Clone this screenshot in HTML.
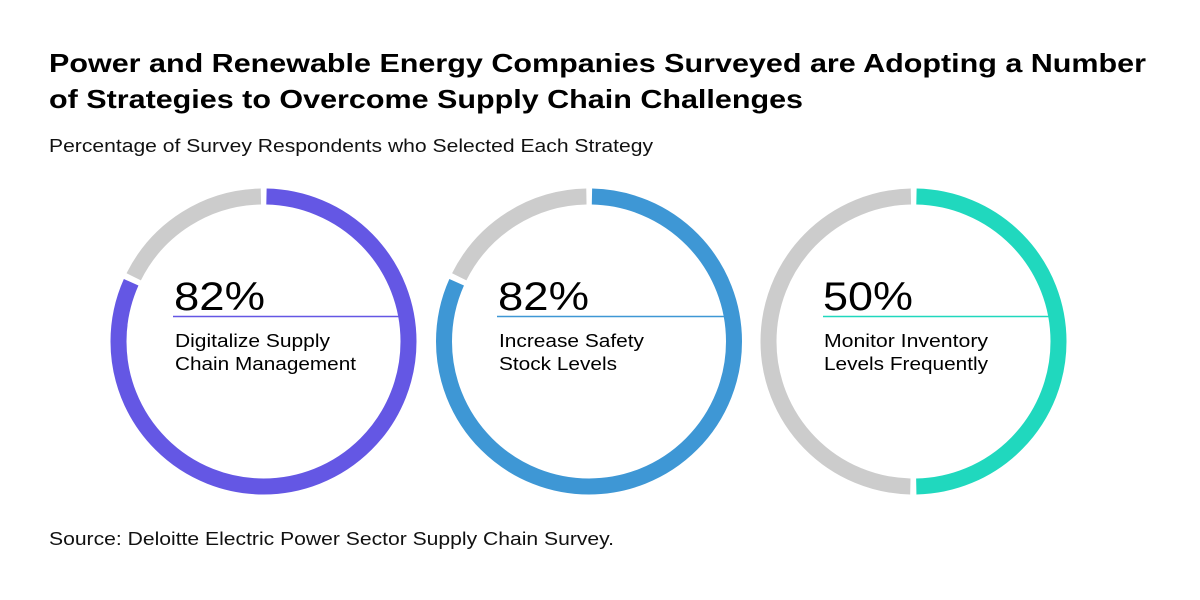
<!DOCTYPE html>
<html><head><meta charset="utf-8"><style>html,body{margin:0;padding:0;background:#fff}svg{display:block}</style></head>
<body>
<svg width="1200" height="600" viewBox="0 0 1200 600" xmlns="http://www.w3.org/2000/svg" font-family="Liberation Sans, Arial, sans-serif">
<rect width="1200" height="600" fill="#fff"/>
<text x="49" y="72" font-size="26" font-weight="bold" fill="#000" textLength="1097" lengthAdjust="spacingAndGlyphs">Power and Renewable Energy Companies Surveyed are Adopting a Number</text>
<text x="49" y="108" font-size="26" font-weight="bold" fill="#000" textLength="754" lengthAdjust="spacingAndGlyphs">of Strategies to Overcome Supply Chain Challenges</text>
<text x="49" y="152" font-size="18" fill="#111" textLength="604" lengthAdjust="spacingAndGlyphs">Percentage of Survey Respondents who Selected Each Strategy</text>
<text x="49" y="545" font-size="18" fill="#111" textLength="565" lengthAdjust="spacingAndGlyphs">Source: Deloitte Electric Power Sector Supply Chain Survey.</text>

<!-- C = 2*pi*145 = 911.06, gap 6 -->
<g fill="none" stroke-width="16">
  <!-- ring 1 82% -->
  <g transform="translate(263.5 341.5) rotate(-90)">
    <circle r="145" stroke="#6457E4" stroke-dasharray="741.07 1000" stroke-dashoffset="-3"/>
    <circle r="145" stroke="#CCCCCC" stroke-dasharray="157.99 1000" stroke-dashoffset="-750.07"/>
  </g>
  <g transform="translate(589 341.5) rotate(-90)">
    <circle r="145" stroke="#3E97D5" stroke-dasharray="741.07 1000" stroke-dashoffset="-3"/>
    <circle r="145" stroke="#CCCCCC" stroke-dasharray="157.99 1000" stroke-dashoffset="-750.07"/>
  </g>
  <g transform="translate(913.5 341.5) rotate(-90)">
    <circle r="145" stroke="#20D8BE" stroke-dasharray="449.53 1000" stroke-dashoffset="-3"/>
    <circle r="145" stroke="#CCCCCC" stroke-dasharray="449.53 1000" stroke-dashoffset="-458.53"/>
  </g>
</g>

<line x1="173" y1="316.5" x2="400" y2="316.5" stroke="#6457E4" stroke-width="1.5"/>
<line x1="497" y1="316.5" x2="726" y2="316.5" stroke="#3E97D5" stroke-width="1.5"/>
<line x1="823" y1="316.5" x2="1052" y2="316.5" stroke="#20D8BE" stroke-width="1.5"/>

<g fill="#000">
<text x="174" y="310" font-size="40" textLength="91" lengthAdjust="spacingAndGlyphs">82%</text>
<text x="175" y="347" font-size="18" textLength="155" lengthAdjust="spacingAndGlyphs">Digitalize Supply</text>
<text x="175" y="370" font-size="18" textLength="181" lengthAdjust="spacingAndGlyphs">Chain Management</text>

<text x="498" y="310" font-size="40" textLength="91" lengthAdjust="spacingAndGlyphs">82%</text>
<text x="499" y="347" font-size="18" textLength="145" lengthAdjust="spacingAndGlyphs">Increase Safety</text>
<text x="499" y="370" font-size="18" textLength="118" lengthAdjust="spacingAndGlyphs">Stock Levels</text>

<text x="823" y="310" font-size="40" textLength="90" lengthAdjust="spacingAndGlyphs">50%</text>
<text x="824" y="347" font-size="18" textLength="164" lengthAdjust="spacingAndGlyphs">Monitor Inventory</text>
<text x="824" y="370" font-size="18" textLength="164" lengthAdjust="spacingAndGlyphs">Levels Frequently</text>
</g>
</svg>
</body></html>
